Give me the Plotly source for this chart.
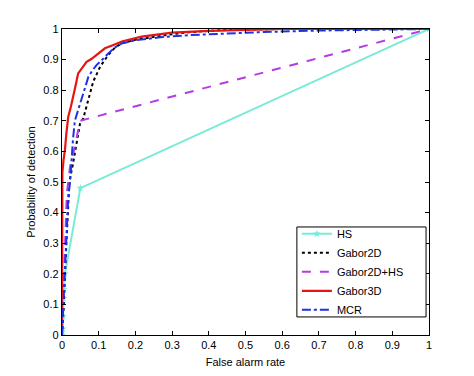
import plotly.graph_objects as go

# ---- data ----
hs_x = [0, 0.002, 0.003, 0.004, 0.005, 0.008, 0.05, 1]
hs_y = [0, 0.02, 0.06, 0.12, 0.15, 0.2, 0.48, 1]

g2d_x = [0, 0.005, 0.01, 0.015, 0.02, 0.03, 0.04, 0.049, 0.058, 0.072, 0.085, 0.104,
         0.126, 0.145, 0.163, 0.2, 0.25, 0.3, 0.35, 0.45, 0.6, 1]
g2d_y = [0, 0.1, 0.25, 0.4, 0.5, 0.56, 0.627, 0.69, 0.708, 0.768, 0.828, 0.877,
         0.915, 0.94, 0.953, 0.965, 0.975, 0.983, 0.99, 0.997, 1, 1]

g2dhs_x = [0, 0.003, 0.006, 0.01, 0.013, 0.022, 0.035, 0.049, 1]
g2dhs_y = [0, 0.1, 0.2, 0.35, 0.46, 0.55, 0.615, 0.70, 1]

g3d_x = [0, 0, 0.001, 0.004, 0.008, 0.012, 0.017, 0.024, 0.031, 0.038, 0.044, 0.055,
         0.067, 0.08, 0.094, 0.117, 0.14, 0.163, 0.217, 0.30, 0.40, 0.5, 0.6, 1]
g3d_y = [0, 0.45, 0.53, 0.57, 0.605, 0.66, 0.713, 0.745, 0.779, 0.82, 0.855, 0.875,
         0.893, 0.902, 0.915, 0.937, 0.948, 0.959, 0.975, 0.988, 0.994, 0.997, 1, 1]

mcr_x = [0, 0.004, 0.008, 0.012, 0.017, 0.022, 0.026, 0.03, 0.035, 0.045, 0.054, 0.063,
         0.072, 0.083, 0.094, 0.11, 0.126, 0.145, 0.163, 0.2, 0.267, 0.35, 0.45, 0.55,
         0.7, 0.85, 1]
mcr_y = [0, 0.1, 0.2, 0.3, 0.45, 0.5, 0.583, 0.64, 0.70, 0.74, 0.779, 0.81,
         0.844, 0.865, 0.882, 0.9, 0.92, 0.94, 0.953, 0.963, 0.973, 0.98, 0.985, 0.99,
         0.995, 0.998, 1]

ticks = [0, 0.1, 0.2, 0.3, 0.4, 0.5, 0.6, 0.7, 0.8, 0.9, 1]
tick_text = ["0", "0.1", "0.2", "0.3", "0.4", "0.5", "0.6", "0.7", "0.8", "0.9", "1"]

FONT = "Liberation Sans, Arial, sans-serif"

fig = go.Figure()
fig.add_trace(go.Scatter(x=hs_x, y=hs_y, name="HS", mode="lines+markers",
                         line=dict(color="rgb(120,235,215)", width=2),
                         marker=dict(symbol="star", size=6, color="rgb(120,235,215)")))
fig.add_trace(go.Scatter(x=g2d_x, y=g2d_y, name="Gabor2D", mode="lines",
                         line=dict(color="black", width=2, dash="dot")))
fig.add_trace(go.Scatter(x=g2dhs_x, y=g2dhs_y, name="Gabor2D+HS", mode="lines",
                         line=dict(color="rgb(180,60,230)", width=2, dash="dash")))
fig.add_trace(go.Scatter(x=g3d_x, y=g3d_y, name="Gabor3D", mode="lines",
                         line=dict(color="rgb(230,20,20)", width=2.2)))
fig.add_trace(go.Scatter(x=mcr_x, y=mcr_y, name="MCR", mode="lines",
                         line=dict(color="rgb(30,50,230)", width=2, dash="dashdot")))

# legend frame
fig.add_shape(type="rect", xref="x", yref="y", x0=0.640, x1=0.992, y0=0.059, y1=0.353,
              line=dict(color="black", width=1), fillcolor="white", layer="above")

axis_common = dict(range=[0, 1], tickvals=ticks, ticktext=tick_text,
                   ticks="inside", ticklen=4, tickcolor="black", tickwidth=1,
                   showline=True, linecolor="black", linewidth=1.3, mirror="ticks",
                   showgrid=False, zeroline=False,
                   tickfont=dict(family=FONT, size=11, color="black"))

fig.update_layout(
    width=474, height=376,
    margin=dict(l=54, r=53, t=21, b=49, autoexpand=False),
    paper_bgcolor="white", plot_bgcolor="white",
    font=dict(family=FONT, size=11, color="black"),
    showlegend=True,
    legend=dict(x=0.640, y=0.378, xanchor="left", yanchor="top",
                bgcolor="rgba(0,0,0,0)", borderwidth=0,
                font=dict(family=FONT, size=11, color="black"),
                itemwidth=30, tracegroupgap=0),
)
fig.update_xaxes(**axis_common,
                 title=dict(text="False alarm rate", standoff=7,
                            font=dict(family=FONT, size=11, color="black")))
fig.update_yaxes(**axis_common,
                 title=dict(text="Probability of detection", standoff=5,
                            font=dict(family=FONT, size=11, color="black")))

fig.write_html("out.html")
